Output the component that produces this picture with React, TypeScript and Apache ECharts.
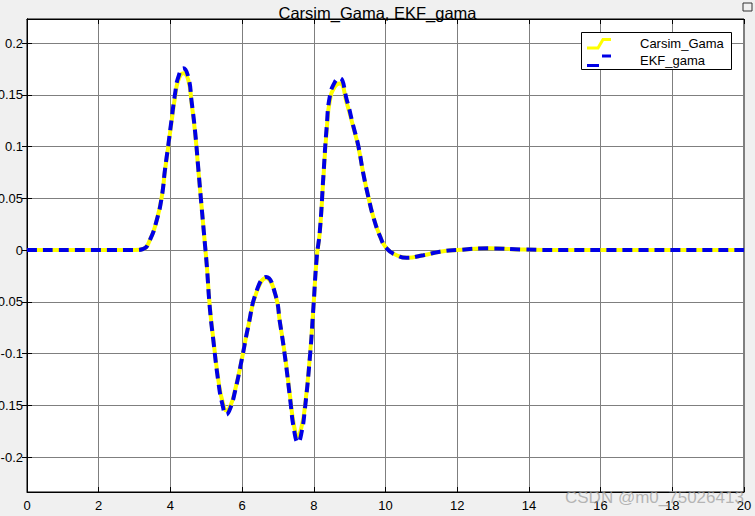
import React, { useEffect, useRef } from "react";
import * as echarts from "echarts";

const titleText = "Carsim_Gama, EKF_gama";
const seriesNames = ["Carsim_Gama", "EKF_gama"];
const xTicks = [0, 2, 4, 6, 8, 10, 12, 14, 16, 18, 20];
const yTicks = [-0.2, -0.15, -0.1, -0.05, 0, 0.05, 0.1, 0.15, 0.2];

const carsimGama: [number, number][] = [
  [0, 0], [3.0, 0], [3.24, 0.001], [3.43, 0.0097], [3.62, 0.029], [3.76, 0.0515],
  [3.85, 0.077], [3.94, 0.1], [4.04, 0.126], [4.13, 0.148], [4.22, 0.164],
  [4.36, 0.1707], [4.5, 0.164], [4.59, 0.142], [4.69, 0.113], [4.78, 0.077],
  [4.87, 0.042], [4.97, 0.003], [5.02, -0.017], [5.1, -0.055], [5.2, -0.087],
  [5.34, -0.126], [5.45, -0.146], [5.57, -0.155], [5.68, -0.15], [5.8, -0.136],
  [5.99, -0.106], [6.17, -0.074], [6.41, -0.04], [6.67, -0.027], [6.92, -0.042],
  [7.06, -0.071], [7.2, -0.103], [7.34, -0.142], [7.45, -0.17], [7.55, -0.18],
  [7.65, -0.172], [7.75, -0.152], [7.89, -0.103], [7.99, -0.055], [8.08, -0.008],
  [8.17, 0.018], [8.27, 0.071], [8.36, 0.116], [8.45, 0.145], [8.59, 0.158],
  [8.73, 0.161], [8.92, 0.142], [9.1, 0.119], [9.24, 0.1], [9.38, 0.074],
  [9.52, 0.0515], [9.66, 0.032], [9.85, 0.013], [10.03, 0.0016], [10.31, -0.005],
  [10.59, -0.0075], [11.06, -0.005], [11.52, -0.0016], [12.0, 0], [12.9, 0.0016],
  [13.85, 0.0005], [15, 0], [20, 0],
];

const ekfGama: [number, number][] = [
  [0, 0], [3.0, 0], [3.24, 0.001], [3.43, 0.0097], [3.62, 0.029], [3.76, 0.0515],
  [3.85, 0.078], [3.94, 0.101], [4.04, 0.128], [4.13, 0.151], [4.22, 0.167],
  [4.36, 0.1755], [4.5, 0.167], [4.59, 0.144], [4.69, 0.114], [4.78, 0.078],
  [4.87, 0.042], [4.97, 0.003], [5.02, -0.017], [5.1, -0.056], [5.2, -0.088],
  [5.34, -0.128], [5.45, -0.149], [5.56, -0.159], [5.67, -0.153], [5.8, -0.137],
  [5.99, -0.106], [6.17, -0.074], [6.41, -0.039], [6.67, -0.026], [6.92, -0.042],
  [7.06, -0.071], [7.2, -0.104], [7.34, -0.144], [7.45, -0.174], [7.56, -0.186],
  [7.66, -0.176], [7.75, -0.154], [7.89, -0.104], [7.99, -0.055], [8.08, -0.008],
  [8.17, 0.019], [8.27, 0.073], [8.36, 0.119], [8.45, 0.149], [8.6, 0.163],
  [8.72, 0.166], [8.92, 0.145], [9.1, 0.12], [9.24, 0.101], [9.38, 0.074],
  [9.52, 0.0515], [9.66, 0.032], [9.85, 0.013], [10.03, 0.0016], [10.31, -0.005],
  [10.59, -0.0075], [11.06, -0.005], [11.52, -0.0016], [12.0, 0], [12.9, 0.0016],
  [13.85, 0.0005], [15, 0], [20, 0],
];

const FONT = "'Liberation Sans', Arial, sans-serif";

export default function App() {
  const ref = useRef<HTMLDivElement>(null);
  useEffect(() => {
    if (!ref.current) return;
    const chart = echarts.init(ref.current, undefined, { renderer: "svg" });
    const gridColor = "#7f7f7f";
    const yBase = {
      type: "value",
      min: -0.2338,
      max: 0.2232,
      axisLine: { show: true, lineStyle: { color: "#000", width: 1 } },
      axisTick: { show: true, inside: true, length: 5, customValues: yTicks, lineStyle: { color: "#000" } },
      splitLine: { show: false },
    };
    const xBase = {
      type: "value",
      min: xTicks[0],
      max: xTicks[xTicks.length - 1],
      interval: 2,
      axisLine: { show: true, onZero: false, lineStyle: { color: "#000", width: 1 } },
      axisTick: { show: true, inside: true, length: 5, lineStyle: { color: "#000" } },
    };
    chart.setOption({
      animation: false,
      backgroundColor: "#f0f0f0",
      title: {
        text: titleText,
        left: "center",
        top: -1,
        textStyle: { fontFamily: FONT, fontSize: 16.5, fontWeight: "normal", color: "#000" },
      },
      grid: {
        left: 27,
        right: 11,
        top: 19,
        bottom: 24,
        containLabel: false,
        outerBoundsMode: "none",
        show: true,
        backgroundColor: "#fff",
        borderColor: "#000",
        borderWidth: 1,
      },
      xAxis: [
        {
          ...xBase,
          position: "bottom",
          axisLabel: { color: "#000", fontFamily: FONT, fontSize: 13, margin: 7 },
          splitLine: { show: true, lineStyle: { color: gridColor, width: 1 } },
        },
        {
          ...xBase,
          position: "top",
          axisLabel: { show: false },
          splitLine: { show: false },
        },
      ],
      yAxis: [
        {
          ...yBase,
          position: "left",
          axisLabel: {
            color: "#000",
            fontFamily: FONT,
            fontSize: 13,
            margin: 4,
            customValues: yTicks,
            formatter: (v: number) => String(Math.round(v * 100) / 100),
          },
          splitLine: { show: true, lineStyle: { color: gridColor, width: 1 } },
        },
        {
          ...yBase,
          position: "right",
          axisLabel: { show: false },
        },
      ],
      series: [
        {
          name: seriesNames[0],
          type: "line",
          data: carsimGama,
          showSymbol: false,
          smooth: 0.5,
          lineStyle: { color: "#ffff00", width: 4 },
          z: 2,
        },
        {
          name: seriesNames[1],
          type: "line",
          data: ekfGama,
          showSymbol: false,
          smooth: 0.5,
          lineStyle: { color: "#0000e6", width: 4, type: [10, 6] },
          z: 3,
        },
      ],
      graphic: [
        {
          type: "rect",
          shape: { x: 581.5, y: 32.5, width: 150, height: 37 },
          style: { fill: "#fff", stroke: "#000", lineWidth: 1 },
          z: 100,
        },
        {
          type: "polyline",
          shape: { points: [[587, 48], [598, 48], [603, 39.5], [611, 39.5]] },
          style: { stroke: "#ffff00", lineWidth: 3, fill: "none" },
          z: 101,
        },
        {
          type: "line",
          shape: { x1: 602, y1: 56, x2: 611, y2: 56 },
          style: { stroke: "#0000e6", lineWidth: 3 },
          z: 101,
        },
        {
          type: "line",
          shape: { x1: 587, y1: 65.5, x2: 599, y2: 65.5 },
          style: { stroke: "#0000e6", lineWidth: 3 },
          z: 101,
        },
        {
          type: "text",
          x: 640,
          y: 43,
          style: { text: seriesNames[0], fontFamily: FONT, fontSize: 13, fill: "#000", verticalAlign: "middle" },
          z: 101,
        },
        {
          type: "text",
          x: 640,
          y: 60,
          style: { text: seriesNames[1], fontFamily: FONT, fontSize: 13, fill: "#000", verticalAlign: "middle" },
          z: 101,
        },
        {
          type: "text",
          x: 565,
          y: 497,
          style: {
            text: "CSDN @m0_75026413",
            fontFamily: FONT,
            fontSize: 17,
            fill: "rgba(160,160,160,0.75)",
            verticalAlign: "middle",
          },
          z: 200,
        },
        {
          type: "rect",
          shape: { x: 743, y: 3, width: 9, height: 8 },
          style: { fill: "none", stroke: "#333", lineWidth: 1 },
          z: 100,
        },
      ],
    });
    return () => chart.dispose();
  }, []);
  return (
    <div
      ref={ref}
      style={{ position: "fixed", left: 0, top: 0, width: 755, height: 516 }}
    />
  );
}
